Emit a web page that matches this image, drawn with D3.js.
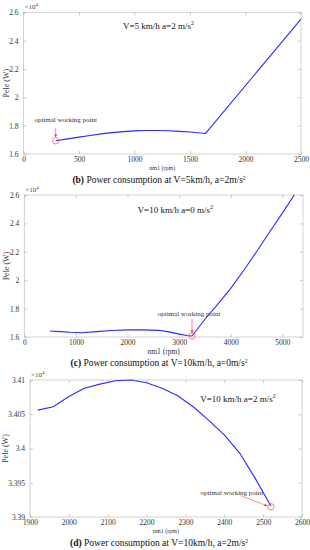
<!DOCTYPE html>
<html>
<head>
<meta charset="utf-8">
<script src="https://cdn.jsdelivr.net/npm/d3@7"></script>
<style>
body{margin:0;background:#fff;}
svg, svg text{font-family:"Liberation Serif","DejaVu Serif","Times New Roman",serif;}
</style>
</head>
<body>
<svg id="chart"></svg>
<script>
var SERIF = "Liberation Serif, DejaVu Serif, serif";

// panel (b) V=5km/h a=2
var rpmB  = [290,400,500,600,700,800,900,1000,1100,1200,1300,1400,1500,1640,2500];
var peleB = [1.693,1.707,1.719,1.731,1.742,1.751,1.758,1.763,1.766,1.766,1.764,1.760,1.755,1.745,2.552];
var xTicksB = [0,500,1000,1500,2000,2500];
var yTicksB = [1.6,1.8,2,2.2,2.4,2.6];

// panel (c) V=10km/h a=0
var rpmC  = [500,700,900,1100,1400,1700,2000,2300,2600,2800,3000,3150,3250,3500,3750,4000,4250,4500,4750,5000,5230];
var peleC = [1.642,1.638,1.633,1.630,1.638,1.646,1.650,1.650,1.647,1.636,1.620,1.611,1.607,1.725,1.832,1.942,2.068,2.200,2.338,2.472,2.600];
var xTicksC = [0,1000,2000,3000,4000,5000];
var yTicksC = [1.6,1.8,2,2.2,2.4,2.6];

// panel (d) V=10km/h a=2
var rpmD  = [1920,1960,2000,2040,2080,2120,2160,2200,2240,2280,2320,2360,2400,2440,2480,2520];
var peleD = [3.4056,3.4061,3.4076,3.4088,3.4094,3.4099,3.4100,3.4096,3.4088,3.4077,3.4061,3.4041,3.4020,3.3993,3.3956,3.3916];
var xTicksD = [1900,2000,2100,2200,2300,2400,2500,2600];
var yTicksD = [3.39,3.395,3.4,3.405,3.41];

var svg = d3.select("#chart").attr("width",310).attr("height",550).attr("font-family",SERIF);
svg.append("rect").attr("width",310).attr("height",550).attr("fill","#fff");

svg.append("defs").append("marker").attr("id","arr")
  .attr("viewBox","0 0 6 6").attr("refX",5).attr("refY",3)
  .attr("markerWidth",4).attr("markerHeight",4).attr("orient","auto")
  .append("path").attr("d","M0,0L6,3L0,6Z").attr("fill","#ff4040");

var drawPanel = function(p)
{
    var g = svg.append("g").attr("transform","translate("+p.left+","+p.top+")");
    var w = p.right-p.left, h = p.bottom-p.top;

    var xScale = d3.scaleLinear().domain(p.xDomain).range([0,w]);
    var yScale = d3.scaleLinear().domain(p.yDomain).range([h,0]);

    // box
    g.append("rect").attr("width",w).attr("height",h)
     .attr("fill","none").attr("stroke","#c8c8c8").attr("stroke-width",0.8);

    var xAxis = d3.axisBottom(xScale).tickValues(p.xTicks).tickSizeInner(-3).tickSizeOuter(0).tickPadding(3)
        .tickFormat(d3.format("d"));
    var yAxis = d3.axisLeft(yScale).tickValues(p.yTicks).tickSizeInner(-3).tickSizeOuter(0).tickPadding(5)
        .tickFormat(function(d){ return +d.toFixed(4); });

    var ax = g.append("g").attr("transform","translate(0,"+h+")").call(xAxis);
    var ay = g.append("g").call(yAxis);
    // mirrored ticks top/right
    var axT = g.append("g").call(d3.axisTop(xScale).tickValues(p.xTicks).tickSizeInner(-3).tickSizeOuter(0).tickFormat(""));
    var ayR = g.append("g").attr("transform","translate("+w+",0)")
        .call(d3.axisRight(yScale).tickValues(p.yTicks).tickSizeInner(-3).tickSizeOuter(0).tickFormat(""));
    [ax,ay,axT,ayR].forEach(function(a){
        a.attr("font-family",SERIF);
        a.select(".domain").remove();
        a.selectAll("line").attr("stroke","#aaa").attr("stroke-width",0.6);
        a.selectAll("text").attr("font-size",7.5).attr("fill","#333");
    });

    // exponent
    var ex = g.append("text").attr("x",1).attr("y",-3).attr("font-size",7).attr("fill","#444");
    ex.append("tspan").text("\u00d710");
    ex.append("tspan").attr("font-size",5).attr("dy",-3).text("4");

    // line
    var pts = p.rpm.map(function(r,i){ return [r,p.pele[i]]; });
    g.append("path").datum(pts)
     .attr("fill","none").attr("stroke","#2a2aff").attr("stroke-width",1.1)
     .attr("d",d3.line().x(function(d){return xScale(d[0]);}).y(function(d){return yScale(d[1]);}));

    // optimal point marker
    var cx = xScale(p.opt[0]), cy = yScale(p.opt[1]);
    g.append("circle").attr("cx",cx).attr("cy",cy).attr("r",3.2)
     .attr("fill","none").attr("stroke","#ff5a5a").attr("stroke-width",0.8);
    g.append("line").attr("x1",cx+p.arrowFrom[0]).attr("y1",cy+p.arrowFrom[1])
     .attr("x2",cx+p.arrowTo[0]).attr("y2",cy+p.arrowTo[1])
     .attr("stroke","#ff6b6b").attr("stroke-width",0.8).attr("marker-end","url(#arr)");
    g.append("text").attr("x",cx+p.labelOff[0]).attr("y",cy+p.labelOff[1])
     .attr("text-anchor","middle").attr("font-size",7).attr("fill","#333")
     .text("optimal working point");

    // condition text
    var ct = g.append("text").attr("x",p.condPos[0]).attr("y",p.condPos[1])
     .attr("text-anchor","middle").attr("font-size",9).attr("fill","#111");
    ct.append("tspan").text(p.cond);
    ct.append("tspan").attr("font-size",6).attr("dy",-4).text("2");

    // axis labels
    g.append("text").attr("x",w/2).attr("y",h+p.xLabelDy).attr("text-anchor","middle")
     .attr("font-size",p.xLabelSize).attr("fill","#333").text("nm1 (rpm)");
    g.append("text").attr("transform","translate("+(-p.left+p.yLabelX)+","+(h/2)+") rotate(-90)")
     .attr("text-anchor","middle").attr("font-size",8).attr("fill","#333").text("Pele (W)");

    // caption
    var cap = svg.append("text").attr("x",159).attr("y",p.capY).attr("text-anchor","middle")
     .attr("font-size",9.5).attr("fill","#111");
    cap.append("tspan").attr("font-weight","bold").text(p.capTag+" ");
    cap.append("tspan").text(p.capText);
    cap.append("tspan").attr("font-size",5.5).attr("dy",-3).text("2");
};

drawPanel({left:23.5,right:301,top:12.3,bottom:154,
    xDomain:[0,2500],yDomain:[1.6,2.6],xTicks:xTicksB,yTicks:yTicksB,
    rpm:rpmB,pele:peleB,opt:[rpmB[0],peleB[0]],
    arrowFrom:[0,-13],arrowTo:[0,-4],labelOff:[10,-19],
    cond:"V=5 km/h  a=2 m/s",condPos:[135,17],xLabelSize:6,xLabelDy:16,yLabelX:9,
    capY:183,capTag:"(b)",capText:"Power consumption at V=5km/h, a=2m/s"});

drawPanel({left:24.3,right:303,top:195,bottom:337,
    xDomain:[0,5400],yDomain:[1.6,2.6],xTicks:xTicksC,yTicks:yTicksC,
    rpm:rpmC,pele:peleC,opt:[3250,1.607],
    arrowFrom:[0,-17],arrowTo:[0,-3],labelOff:[-3,-20],
    cond:"V=10 km/h  a=0 m/s",condPos:[151,18],xLabelSize:7.5,xLabelDy:17,yLabelX:9,
    capY:366,capTag:"(c)",capText:"Power consumption at V=10km/h, a=0m/s"});

drawPanel({left:30,right:302,top:380,bottom:517,
    xDomain:[1900,2600],yDomain:[3.39,3.41],xTicks:xTicksD,yTicks:yTicksD,
    rpm:rpmD,pele:peleD,opt:[2520,3.3915],
    arrowFrom:[-30,-11],arrowTo:[-4,-1],labelOff:[-39,-12],
    cond:"V=10 km/h  a=2 m/s",condPos:[208,22],xLabelSize:6,xLabelDy:16,yLabelX:8,
    capY:546,capTag:"(d)",capText:"Power consumption at V=10km/h, a=2m/s"});
</script>
</body>
</html>
